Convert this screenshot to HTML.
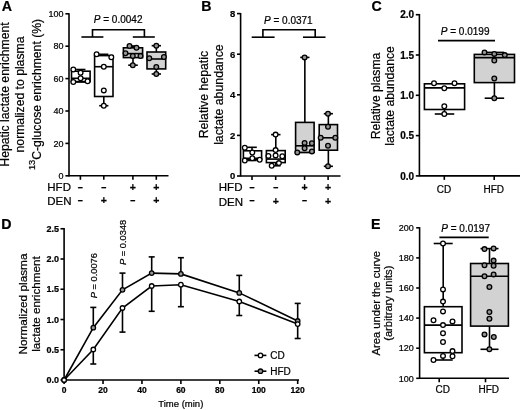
<!DOCTYPE html>
<html><head><meta charset="utf-8"><style>
html,body{margin:0;padding:0;background:#fff;}
svg{display:block;}
text{fill:#000;stroke:#000;stroke-width:0.22px;}
</style></head><body>
<svg width="520" height="410" viewBox="0 0 520 410" font-family="'Liberation Sans', Arial, Helvetica, sans-serif">
<rect width="520" height="410" fill="#fff"/>
<text x="1.80" y="11.30" font-size="14.2" text-anchor="start" font-weight="bold" >A</text>
<line x1="69.00" y1="13.20" x2="69.00" y2="176.40" stroke="#000" stroke-width="1.6"/>
<line x1="65.40" y1="175.80" x2="69.00" y2="175.80" stroke="#000" stroke-width="1.6"/>
<text x="63.60" y="179.04" font-size="9" text-anchor="end" >0</text>
<line x1="65.40" y1="143.40" x2="69.00" y2="143.40" stroke="#000" stroke-width="1.6"/>
<text x="63.60" y="146.64" font-size="9" text-anchor="end" >20</text>
<line x1="65.40" y1="111.00" x2="69.00" y2="111.00" stroke="#000" stroke-width="1.6"/>
<text x="63.60" y="114.24" font-size="9" text-anchor="end" >40</text>
<line x1="65.40" y1="78.60" x2="69.00" y2="78.60" stroke="#000" stroke-width="1.6"/>
<text x="63.60" y="81.84" font-size="9" text-anchor="end" >60</text>
<line x1="65.40" y1="46.20" x2="69.00" y2="46.20" stroke="#000" stroke-width="1.6"/>
<text x="63.60" y="49.44" font-size="9" text-anchor="end" >80</text>
<line x1="65.40" y1="13.80" x2="69.00" y2="13.80" stroke="#000" stroke-width="1.6"/>
<text x="63.60" y="17.04" font-size="9" text-anchor="end" >100</text>
<line x1="69.00" y1="175.80" x2="168.50" y2="175.80" stroke="#000" stroke-width="1.6"/>
<line x1="80.40" y1="175.80" x2="80.40" y2="179.80" stroke="#000" stroke-width="1.6"/>
<line x1="103.80" y1="175.80" x2="103.80" y2="179.80" stroke="#000" stroke-width="1.6"/>
<line x1="132.90" y1="175.80" x2="132.90" y2="179.80" stroke="#000" stroke-width="1.6"/>
<line x1="156.30" y1="175.80" x2="156.30" y2="179.80" stroke="#000" stroke-width="1.6"/>
<text x="9.20" y="94.50" font-size="12.2" text-anchor="middle" transform="rotate(-90 9.20 94.50)" >Hepatic lactate enrichment</text>
<text x="23.80" y="94.50" font-size="12.2" text-anchor="middle" transform="rotate(-90 23.80 94.50)" >normalized to plasma</text>
<text x="41.2" y="94.5" font-size="12.2" text-anchor="middle" transform="rotate(-90 41.2 94.5)"><tspan font-size="9.3" dy="-6.0">13</tspan><tspan dy="6.0">C-glucose enrichment (%)</tspan></text>
<text x="47.30" y="191.20" font-size="11.5" text-anchor="start" >HFD</text>
<text x="47.30" y="205.40" font-size="11.5" text-anchor="start" >DEN</text>
<text x="0" y="0" font-size="14" text-anchor="middle" transform="translate(80.40 191.80) scale(1.3 1)">-</text>
<text x="0" y="0" font-size="14" text-anchor="middle" transform="translate(103.80 191.80) scale(1.3 1)">-</text>
<text x="132.90" y="191.10" font-size="10.5" text-anchor="middle" font-weight="bold" >+</text>
<text x="156.30" y="191.10" font-size="10.5" text-anchor="middle" font-weight="bold" >+</text>
<text x="0" y="0" font-size="14" text-anchor="middle" transform="translate(80.40 204.90) scale(1.3 1)">-</text>
<text x="103.80" y="204.20" font-size="10.5" text-anchor="middle" font-weight="bold" >+</text>
<text x="0" y="0" font-size="14" text-anchor="middle" transform="translate(132.90 204.90) scale(1.3 1)">-</text>
<text x="156.30" y="204.20" font-size="10.5" text-anchor="middle" font-weight="bold" >+</text>
<text x="93.80" y="22.80" font-size="10" text-anchor="start" ><tspan font-style="italic">P</tspan> = 0.0042</text>
<polyline fill="none" stroke="#000" stroke-width="1.6" stroke-linejoin="miter" points="92.50,37.00 92.50,29.70 144.40,29.70 144.40,37.00"/>
<line x1="81.40" y1="37.00" x2="103.40" y2="37.00" stroke="#000" stroke-width="1.6"/>
<line x1="132.80" y1="37.00" x2="154.80" y2="37.00" stroke="#000" stroke-width="1.6"/>
<line x1="80.80" y1="69.50" x2="80.80" y2="71.20" stroke="#000" stroke-width="1.6"/>
<line x1="80.80" y1="81.60" x2="80.80" y2="82.00" stroke="#000" stroke-width="1.6"/>
<line x1="76.15" y1="69.50" x2="85.45" y2="69.50" stroke="#000" stroke-width="1.6"/>
<line x1="76.15" y1="82.00" x2="85.45" y2="82.00" stroke="#000" stroke-width="1.6"/>
<rect x="71.50" y="71.20" width="18.60" height="10.40" fill="#fff" stroke="#000" stroke-width="1.6"/>
<line x1="71.50" y1="78.30" x2="90.10" y2="78.30" stroke="#000" stroke-width="1.6"/>
<circle cx="73.30" cy="69.50" r="2.35" fill="#fff" stroke="#000" stroke-width="1.3"/>
<circle cx="80.60" cy="72.80" r="2.35" fill="#fff" stroke="#000" stroke-width="1.3"/>
<circle cx="80.60" cy="78.30" r="2.35" fill="#fff" stroke="#000" stroke-width="1.3"/>
<circle cx="73.30" cy="82.00" r="2.35" fill="#fff" stroke="#000" stroke-width="1.3"/>
<circle cx="87.60" cy="81.20" r="2.35" fill="#fff" stroke="#000" stroke-width="1.3"/>
<line x1="103.80" y1="54.30" x2="103.80" y2="55.60" stroke="#000" stroke-width="1.6"/>
<line x1="103.80" y1="96.50" x2="103.80" y2="105.70" stroke="#000" stroke-width="1.6"/>
<line x1="99.20" y1="54.30" x2="108.40" y2="54.30" stroke="#000" stroke-width="1.6"/>
<line x1="99.20" y1="105.70" x2="108.40" y2="105.70" stroke="#000" stroke-width="1.6"/>
<rect x="94.60" y="55.60" width="18.40" height="40.90" fill="#fff" stroke="#000" stroke-width="1.6"/>
<line x1="94.60" y1="66.70" x2="113.00" y2="66.70" stroke="#000" stroke-width="1.6"/>
<circle cx="96.60" cy="54.30" r="2.35" fill="#fff" stroke="#000" stroke-width="1.3"/>
<circle cx="111.30" cy="57.20" r="2.35" fill="#fff" stroke="#000" stroke-width="1.3"/>
<circle cx="103.80" cy="66.70" r="2.35" fill="#fff" stroke="#000" stroke-width="1.3"/>
<circle cx="103.80" cy="90.40" r="2.35" fill="#fff" stroke="#000" stroke-width="1.3"/>
<circle cx="103.80" cy="105.70" r="2.35" fill="#fff" stroke="#000" stroke-width="1.3"/>
<line x1="133.00" y1="46.00" x2="133.00" y2="47.80" stroke="#000" stroke-width="1.6"/>
<line x1="133.00" y1="57.60" x2="133.00" y2="65.20" stroke="#000" stroke-width="1.6"/>
<line x1="128.20" y1="46.00" x2="137.80" y2="46.00" stroke="#000" stroke-width="1.6"/>
<line x1="128.20" y1="65.20" x2="137.80" y2="65.20" stroke="#000" stroke-width="1.6"/>
<rect x="123.40" y="47.80" width="19.20" height="9.80" fill="#d2d2d2" stroke="#000" stroke-width="1.6"/>
<line x1="123.40" y1="53.60" x2="142.60" y2="53.60" stroke="#000" stroke-width="1.6"/>
<circle cx="129.50" cy="46.00" r="2.35" fill="#959595" stroke="#000" stroke-width="1.3"/>
<circle cx="136.50" cy="47.80" r="2.35" fill="#959595" stroke="#000" stroke-width="1.3"/>
<circle cx="125.50" cy="53.30" r="2.35" fill="#959595" stroke="#000" stroke-width="1.3"/>
<circle cx="132.80" cy="56.00" r="2.35" fill="#959595" stroke="#000" stroke-width="1.3"/>
<circle cx="140.50" cy="56.00" r="2.35" fill="#959595" stroke="#000" stroke-width="1.3"/>
<circle cx="132.80" cy="65.20" r="2.35" fill="#959595" stroke="#000" stroke-width="1.3"/>
<line x1="156.35" y1="45.70" x2="156.35" y2="52.00" stroke="#000" stroke-width="1.6"/>
<line x1="156.35" y1="68.90" x2="156.35" y2="74.00" stroke="#000" stroke-width="1.6"/>
<line x1="151.67" y1="45.70" x2="161.03" y2="45.70" stroke="#000" stroke-width="1.6"/>
<line x1="151.67" y1="74.00" x2="161.03" y2="74.00" stroke="#000" stroke-width="1.6"/>
<rect x="147.00" y="52.00" width="18.70" height="16.90" fill="#d2d2d2" stroke="#000" stroke-width="1.6"/>
<line x1="147.00" y1="59.00" x2="165.70" y2="59.00" stroke="#000" stroke-width="1.6"/>
<circle cx="156.30" cy="45.70" r="2.35" fill="#959595" stroke="#000" stroke-width="1.3"/>
<circle cx="149.30" cy="58.20" r="2.35" fill="#959595" stroke="#000" stroke-width="1.3"/>
<circle cx="163.90" cy="57.00" r="2.35" fill="#959595" stroke="#000" stroke-width="1.3"/>
<circle cx="156.30" cy="67.00" r="2.35" fill="#959595" stroke="#000" stroke-width="1.3"/>
<circle cx="156.30" cy="74.00" r="2.35" fill="#959595" stroke="#000" stroke-width="1.3"/>
<text x="201.30" y="11.30" font-size="14.2" text-anchor="start" font-weight="bold" >B</text>
<line x1="240.60" y1="13.00" x2="240.60" y2="176.60" stroke="#000" stroke-width="1.6"/>
<line x1="237.00" y1="176.00" x2="240.60" y2="176.00" stroke="#000" stroke-width="1.6"/>
<text x="235.40" y="179.42" font-size="9.5" text-anchor="end" font-weight="bold" >0</text>
<line x1="237.00" y1="135.40" x2="240.60" y2="135.40" stroke="#000" stroke-width="1.6"/>
<text x="235.40" y="138.82" font-size="9.5" text-anchor="end" font-weight="bold" >2</text>
<line x1="237.00" y1="94.80" x2="240.60" y2="94.80" stroke="#000" stroke-width="1.6"/>
<text x="235.40" y="98.22" font-size="9.5" text-anchor="end" font-weight="bold" >4</text>
<line x1="237.00" y1="54.20" x2="240.60" y2="54.20" stroke="#000" stroke-width="1.6"/>
<text x="235.40" y="57.62" font-size="9.5" text-anchor="end" font-weight="bold" >6</text>
<line x1="237.00" y1="13.60" x2="240.60" y2="13.60" stroke="#000" stroke-width="1.6"/>
<text x="235.40" y="17.02" font-size="9.5" text-anchor="end" font-weight="bold" >8</text>
<line x1="240.60" y1="176.00" x2="340.50" y2="176.00" stroke="#000" stroke-width="1.6"/>
<line x1="252.00" y1="176.00" x2="252.00" y2="180.00" stroke="#000" stroke-width="1.6"/>
<line x1="275.70" y1="176.00" x2="275.70" y2="180.00" stroke="#000" stroke-width="1.6"/>
<line x1="304.60" y1="176.00" x2="304.60" y2="180.00" stroke="#000" stroke-width="1.6"/>
<line x1="328.10" y1="176.00" x2="328.10" y2="180.00" stroke="#000" stroke-width="1.6"/>
<text x="207.90" y="94.60" font-size="12.3" text-anchor="middle" transform="rotate(-90 207.90 94.60)" >Relative hepatic</text>
<text x="222.60" y="94.60" font-size="12.3" text-anchor="middle" transform="rotate(-90 222.60 94.60)" >lactate abundance</text>
<text x="218.80" y="191.40" font-size="11.5" text-anchor="start" >HFD</text>
<text x="218.80" y="205.60" font-size="11.5" text-anchor="start" >DEN</text>
<text x="0" y="0" font-size="14" text-anchor="middle" transform="translate(252.00 192.00) scale(1.3 1)">-</text>
<text x="0" y="0" font-size="14" text-anchor="middle" transform="translate(275.70 192.00) scale(1.3 1)">-</text>
<text x="304.60" y="191.30" font-size="10.5" text-anchor="middle" font-weight="bold" >+</text>
<text x="328.10" y="191.30" font-size="10.5" text-anchor="middle" font-weight="bold" >+</text>
<text x="0" y="0" font-size="14" text-anchor="middle" transform="translate(252.00 205.20) scale(1.3 1)">-</text>
<text x="275.70" y="204.50" font-size="10.5" text-anchor="middle" font-weight="bold" >+</text>
<text x="0" y="0" font-size="14" text-anchor="middle" transform="translate(304.60 205.20) scale(1.3 1)">-</text>
<text x="328.10" y="204.50" font-size="10.5" text-anchor="middle" font-weight="bold" >+</text>
<text x="264.00" y="23.60" font-size="10" text-anchor="start" ><tspan font-style="italic">P</tspan> = 0.0371</text>
<polyline fill="none" stroke="#000" stroke-width="1.6" stroke-linejoin="miter" points="262.90,37.20 262.90,29.80 315.20,29.80 315.20,37.20"/>
<line x1="251.70" y1="37.20" x2="274.60" y2="37.20" stroke="#000" stroke-width="1.6"/>
<line x1="303.00" y1="37.20" x2="325.50" y2="37.20" stroke="#000" stroke-width="1.6"/>
<line x1="252.00" y1="147.30" x2="252.00" y2="150.80" stroke="#000" stroke-width="1.6"/>
<line x1="252.00" y1="159.20" x2="252.00" y2="160.50" stroke="#000" stroke-width="1.6"/>
<line x1="247.20" y1="147.30" x2="256.80" y2="147.30" stroke="#000" stroke-width="1.6"/>
<line x1="247.20" y1="160.50" x2="256.80" y2="160.50" stroke="#000" stroke-width="1.6"/>
<rect x="243.40" y="150.80" width="18.20" height="8.40" fill="#fff" stroke="#000" stroke-width="1.6"/>
<line x1="243.40" y1="158.30" x2="261.60" y2="158.30" stroke="#000" stroke-width="1.6"/>
<circle cx="244.80" cy="147.70" r="2.35" fill="#fff" stroke="#000" stroke-width="1.3"/>
<circle cx="252.30" cy="152.50" r="2.35" fill="#fff" stroke="#000" stroke-width="1.3"/>
<circle cx="252.30" cy="158.30" r="2.35" fill="#fff" stroke="#000" stroke-width="1.3"/>
<circle cx="244.80" cy="160.50" r="2.35" fill="#fff" stroke="#000" stroke-width="1.3"/>
<circle cx="259.70" cy="159.70" r="2.35" fill="#fff" stroke="#000" stroke-width="1.3"/>
<line x1="275.80" y1="134.60" x2="275.80" y2="150.60" stroke="#000" stroke-width="1.6"/>
<line x1="275.80" y1="162.60" x2="275.80" y2="165.80" stroke="#000" stroke-width="1.6"/>
<line x1="271.10" y1="134.60" x2="280.50" y2="134.60" stroke="#000" stroke-width="1.6"/>
<line x1="271.10" y1="165.80" x2="280.50" y2="165.80" stroke="#000" stroke-width="1.6"/>
<rect x="266.40" y="150.60" width="18.80" height="12.00" fill="#fff" stroke="#000" stroke-width="1.6"/>
<line x1="266.40" y1="159.10" x2="285.20" y2="159.10" stroke="#000" stroke-width="1.6"/>
<circle cx="275.60" cy="134.60" r="2.35" fill="#fff" stroke="#000" stroke-width="1.3"/>
<circle cx="275.60" cy="150.10" r="2.35" fill="#fff" stroke="#000" stroke-width="1.3"/>
<circle cx="268.40" cy="155.90" r="2.35" fill="#fff" stroke="#000" stroke-width="1.3"/>
<circle cx="275.60" cy="155.40" r="2.35" fill="#fff" stroke="#000" stroke-width="1.3"/>
<circle cx="282.30" cy="156.30" r="2.35" fill="#fff" stroke="#000" stroke-width="1.3"/>
<circle cx="278.90" cy="163.10" r="2.35" fill="#fff" stroke="#000" stroke-width="1.3"/>
<circle cx="271.70" cy="165.80" r="2.35" fill="#fff" stroke="#000" stroke-width="1.3"/>
<line x1="304.85" y1="57.40" x2="304.85" y2="122.40" stroke="#000" stroke-width="1.6"/>
<line x1="304.85" y1="152.40" x2="304.85" y2="152.40" stroke="#000" stroke-width="1.6"/>
<line x1="300.23" y1="57.40" x2="309.48" y2="57.40" stroke="#000" stroke-width="1.6"/>
<line x1="300.23" y1="152.40" x2="309.48" y2="152.40" stroke="#000" stroke-width="1.6"/>
<rect x="295.60" y="122.40" width="18.50" height="30.00" fill="#d2d2d2" stroke="#000" stroke-width="1.6"/>
<line x1="295.60" y1="145.80" x2="314.10" y2="145.80" stroke="#000" stroke-width="1.6"/>
<circle cx="304.60" cy="57.40" r="2.35" fill="#959595" stroke="#000" stroke-width="1.3"/>
<circle cx="304.60" cy="142.90" r="2.35" fill="#959595" stroke="#000" stroke-width="1.3"/>
<circle cx="311.90" cy="143.30" r="2.35" fill="#959595" stroke="#000" stroke-width="1.3"/>
<circle cx="304.60" cy="148.30" r="2.35" fill="#959595" stroke="#000" stroke-width="1.3"/>
<circle cx="297.30" cy="152.40" r="2.35" fill="#959595" stroke="#000" stroke-width="1.3"/>
<circle cx="311.90" cy="151.40" r="2.35" fill="#959595" stroke="#000" stroke-width="1.3"/>
<line x1="328.35" y1="113.70" x2="328.35" y2="124.60" stroke="#000" stroke-width="1.6"/>
<line x1="328.35" y1="150.20" x2="328.35" y2="166.30" stroke="#000" stroke-width="1.6"/>
<line x1="323.78" y1="113.70" x2="332.93" y2="113.70" stroke="#000" stroke-width="1.6"/>
<line x1="323.78" y1="166.30" x2="332.93" y2="166.30" stroke="#000" stroke-width="1.6"/>
<rect x="319.20" y="124.60" width="18.30" height="25.60" fill="#d2d2d2" stroke="#000" stroke-width="1.6"/>
<line x1="319.20" y1="137.80" x2="337.50" y2="137.80" stroke="#000" stroke-width="1.6"/>
<circle cx="328.00" cy="113.70" r="2.35" fill="#959595" stroke="#000" stroke-width="1.3"/>
<circle cx="328.00" cy="126.80" r="2.35" fill="#959595" stroke="#000" stroke-width="1.3"/>
<circle cx="320.70" cy="137.80" r="2.35" fill="#959595" stroke="#000" stroke-width="1.3"/>
<circle cx="335.30" cy="137.80" r="2.35" fill="#959595" stroke="#000" stroke-width="1.3"/>
<circle cx="328.00" cy="145.80" r="2.35" fill="#959595" stroke="#000" stroke-width="1.3"/>
<circle cx="328.00" cy="166.30" r="2.35" fill="#959595" stroke="#000" stroke-width="1.3"/>
<text x="371.60" y="11.40" font-size="14.2" text-anchor="start" font-weight="bold" >C</text>
<line x1="419.40" y1="14.00" x2="419.40" y2="176.50" stroke="#000" stroke-width="1.6"/>
<line x1="415.80" y1="175.90" x2="419.40" y2="175.90" stroke="#000" stroke-width="1.6"/>
<text x="414.10" y="179.50" font-size="10" text-anchor="end" font-weight="bold" >0.0</text>
<line x1="415.80" y1="135.60" x2="419.40" y2="135.60" stroke="#000" stroke-width="1.6"/>
<text x="414.10" y="139.20" font-size="10" text-anchor="end" font-weight="bold" >0.5</text>
<line x1="415.80" y1="95.30" x2="419.40" y2="95.30" stroke="#000" stroke-width="1.6"/>
<text x="414.10" y="98.90" font-size="10" text-anchor="end" font-weight="bold" >1.0</text>
<line x1="415.80" y1="55.00" x2="419.40" y2="55.00" stroke="#000" stroke-width="1.6"/>
<text x="414.10" y="58.60" font-size="10" text-anchor="end" font-weight="bold" >1.5</text>
<line x1="415.80" y1="14.70" x2="419.40" y2="14.70" stroke="#000" stroke-width="1.6"/>
<text x="414.10" y="18.30" font-size="10" text-anchor="end" font-weight="bold" >2.0</text>
<line x1="419.40" y1="175.90" x2="520.00" y2="175.90" stroke="#000" stroke-width="1.6"/>
<line x1="444.30" y1="175.90" x2="444.30" y2="179.90" stroke="#000" stroke-width="1.6"/>
<line x1="494.20" y1="175.90" x2="494.20" y2="179.90" stroke="#000" stroke-width="1.6"/>
<text x="380.20" y="96.00" font-size="12.2" text-anchor="middle" transform="rotate(-90 380.20 96.00)" >Relative plasma</text>
<text x="393.90" y="96.00" font-size="12.2" text-anchor="middle" transform="rotate(-90 393.90 96.00)" >lactate abundance</text>
<text x="444.00" y="193.00" font-size="10" text-anchor="middle" >CD</text>
<text x="493.80" y="193.00" font-size="10" text-anchor="middle" >HFD</text>
<text x="440.80" y="34.50" font-size="10" text-anchor="start" ><tspan font-style="italic">P</tspan> = 0.0199</text>
<line x1="438.00" y1="40.60" x2="495.00" y2="40.60" stroke="#000" stroke-width="1.6"/>
<line x1="444.50" y1="83.80" x2="444.50" y2="83.80" stroke="#000" stroke-width="1.6"/>
<line x1="444.50" y1="109.50" x2="444.50" y2="114.00" stroke="#000" stroke-width="1.6"/>
<line x1="434.75" y1="83.80" x2="454.25" y2="83.80" stroke="#000" stroke-width="1.6"/>
<line x1="434.75" y1="114.00" x2="454.25" y2="114.00" stroke="#000" stroke-width="1.6"/>
<rect x="424.40" y="83.80" width="40.20" height="25.70" fill="#fff" stroke="#000" stroke-width="1.6"/>
<line x1="424.40" y1="87.90" x2="464.60" y2="87.90" stroke="#000" stroke-width="1.6"/>
<circle cx="434.00" cy="83.30" r="2.35" fill="#fff" stroke="#000" stroke-width="1.3"/>
<circle cx="454.50" cy="83.30" r="2.35" fill="#fff" stroke="#000" stroke-width="1.3"/>
<circle cx="444.30" cy="88.20" r="2.35" fill="#fff" stroke="#000" stroke-width="1.3"/>
<circle cx="444.30" cy="106.30" r="2.35" fill="#fff" stroke="#000" stroke-width="1.3"/>
<circle cx="444.30" cy="114.00" r="2.35" fill="#fff" stroke="#000" stroke-width="1.3"/>
<line x1="494.40" y1="52.40" x2="494.40" y2="54.40" stroke="#000" stroke-width="1.6"/>
<line x1="494.40" y1="82.60" x2="494.40" y2="98.20" stroke="#000" stroke-width="1.6"/>
<line x1="484.65" y1="52.40" x2="504.15" y2="52.40" stroke="#000" stroke-width="1.6"/>
<line x1="484.65" y1="98.20" x2="504.15" y2="98.20" stroke="#000" stroke-width="1.6"/>
<rect x="474.30" y="54.40" width="40.20" height="28.20" fill="#d2d2d2" stroke="#000" stroke-width="1.6"/>
<line x1="474.30" y1="57.60" x2="514.50" y2="57.60" stroke="#000" stroke-width="1.6"/>
<circle cx="484.50" cy="52.40" r="2.35" fill="#959595" stroke="#000" stroke-width="1.3"/>
<circle cx="494.30" cy="53.90" r="2.35" fill="#959595" stroke="#000" stroke-width="1.3"/>
<circle cx="504.80" cy="55.10" r="2.35" fill="#959595" stroke="#000" stroke-width="1.3"/>
<circle cx="494.30" cy="60.50" r="2.35" fill="#959595" stroke="#000" stroke-width="1.3"/>
<circle cx="494.30" cy="78.50" r="2.35" fill="#959595" stroke="#000" stroke-width="1.3"/>
<circle cx="494.30" cy="98.20" r="2.35" fill="#959595" stroke="#000" stroke-width="1.3"/>
<text x="1.20" y="229.30" font-size="14.2" text-anchor="start" font-weight="bold" >D</text>
<line x1="64.10" y1="228.10" x2="64.10" y2="380.60" stroke="#000" stroke-width="1.6"/>
<line x1="60.50" y1="380.00" x2="64.10" y2="380.00" stroke="#000" stroke-width="1.6"/>
<text x="59.10" y="383.24" font-size="9" text-anchor="end" font-weight="bold" >0.0</text>
<line x1="60.50" y1="349.75" x2="64.10" y2="349.75" stroke="#000" stroke-width="1.6"/>
<text x="59.10" y="352.99" font-size="9" text-anchor="end" font-weight="bold" >0.5</text>
<line x1="60.50" y1="319.50" x2="64.10" y2="319.50" stroke="#000" stroke-width="1.6"/>
<text x="59.10" y="322.74" font-size="9" text-anchor="end" font-weight="bold" >1.0</text>
<line x1="60.50" y1="289.25" x2="64.10" y2="289.25" stroke="#000" stroke-width="1.6"/>
<text x="59.10" y="292.49" font-size="9" text-anchor="end" font-weight="bold" >1.5</text>
<line x1="60.50" y1="259.00" x2="64.10" y2="259.00" stroke="#000" stroke-width="1.6"/>
<text x="59.10" y="262.24" font-size="9" text-anchor="end" font-weight="bold" >2.0</text>
<line x1="60.50" y1="228.75" x2="64.10" y2="228.75" stroke="#000" stroke-width="1.6"/>
<text x="59.10" y="231.99" font-size="9" text-anchor="end" font-weight="bold" >2.5</text>
<line x1="64.10" y1="380.00" x2="299.00" y2="380.00" stroke="#000" stroke-width="1.6"/>
<line x1="64.10" y1="380.00" x2="64.10" y2="384.00" stroke="#000" stroke-width="1.6"/>
<text x="64.10" y="393.20" font-size="8.5" text-anchor="middle" font-weight="bold" >0</text>
<line x1="103.03" y1="380.00" x2="103.03" y2="384.00" stroke="#000" stroke-width="1.6"/>
<text x="103.03" y="393.20" font-size="8.5" text-anchor="middle" font-weight="bold" >20</text>
<line x1="141.96" y1="380.00" x2="141.96" y2="384.00" stroke="#000" stroke-width="1.6"/>
<text x="141.96" y="393.20" font-size="8.5" text-anchor="middle" font-weight="bold" >40</text>
<line x1="180.89" y1="380.00" x2="180.89" y2="384.00" stroke="#000" stroke-width="1.6"/>
<text x="180.89" y="393.20" font-size="8.5" text-anchor="middle" font-weight="bold" >60</text>
<line x1="219.82" y1="380.00" x2="219.82" y2="384.00" stroke="#000" stroke-width="1.6"/>
<text x="219.82" y="393.20" font-size="8.5" text-anchor="middle" font-weight="bold" >80</text>
<line x1="258.75" y1="380.00" x2="258.75" y2="384.00" stroke="#000" stroke-width="1.6"/>
<text x="258.75" y="393.20" font-size="8.5" text-anchor="middle" font-weight="bold" >100</text>
<line x1="297.68" y1="380.00" x2="297.68" y2="384.00" stroke="#000" stroke-width="1.6"/>
<text x="297.68" y="393.20" font-size="8.5" text-anchor="middle" font-weight="bold" >120</text>
<text x="180.80" y="407.20" font-size="9.5" text-anchor="middle" >Time (min)</text>
<text x="27.00" y="304.00" font-size="11.8" text-anchor="middle" transform="rotate(-90 27.00 304.00)" >Normalized plasma</text>
<text x="39.60" y="304.00" font-size="11.7" text-anchor="middle" transform="rotate(-90 39.60 304.00)" >lactate enrichment</text>
<line x1="93.30" y1="327.70" x2="93.30" y2="307.40" stroke="#000" stroke-width="1.6"/>
<line x1="90.30" y1="307.40" x2="96.30" y2="307.40" stroke="#000" stroke-width="1.6"/>
<line x1="122.49" y1="289.80" x2="122.49" y2="273.10" stroke="#000" stroke-width="1.6"/>
<line x1="119.49" y1="273.10" x2="125.49" y2="273.10" stroke="#000" stroke-width="1.6"/>
<line x1="151.69" y1="273.10" x2="151.69" y2="256.90" stroke="#000" stroke-width="1.6"/>
<line x1="148.69" y1="256.90" x2="154.69" y2="256.90" stroke="#000" stroke-width="1.6"/>
<line x1="180.89" y1="273.90" x2="180.89" y2="257.70" stroke="#000" stroke-width="1.6"/>
<line x1="177.89" y1="257.70" x2="183.89" y2="257.70" stroke="#000" stroke-width="1.6"/>
<line x1="239.28" y1="292.90" x2="239.28" y2="275.40" stroke="#000" stroke-width="1.6"/>
<line x1="236.28" y1="275.40" x2="242.28" y2="275.40" stroke="#000" stroke-width="1.6"/>
<line x1="297.68" y1="321.00" x2="297.68" y2="303.40" stroke="#000" stroke-width="1.6"/>
<line x1="294.68" y1="303.40" x2="300.68" y2="303.40" stroke="#000" stroke-width="1.6"/>
<line x1="93.30" y1="349.50" x2="93.30" y2="364.00" stroke="#000" stroke-width="1.6"/>
<line x1="90.30" y1="364.00" x2="96.30" y2="364.00" stroke="#000" stroke-width="1.6"/>
<line x1="122.49" y1="308.00" x2="122.49" y2="332.10" stroke="#000" stroke-width="1.6"/>
<line x1="119.49" y1="332.10" x2="125.49" y2="332.10" stroke="#000" stroke-width="1.6"/>
<line x1="151.69" y1="286.00" x2="151.69" y2="311.30" stroke="#000" stroke-width="1.6"/>
<line x1="148.69" y1="311.30" x2="154.69" y2="311.30" stroke="#000" stroke-width="1.6"/>
<line x1="180.89" y1="284.70" x2="180.89" y2="306.70" stroke="#000" stroke-width="1.6"/>
<line x1="177.89" y1="306.70" x2="183.89" y2="306.70" stroke="#000" stroke-width="1.6"/>
<line x1="239.28" y1="301.50" x2="239.28" y2="315.50" stroke="#000" stroke-width="1.6"/>
<line x1="236.28" y1="315.50" x2="242.28" y2="315.50" stroke="#000" stroke-width="1.6"/>
<line x1="297.68" y1="324.10" x2="297.68" y2="338.50" stroke="#000" stroke-width="1.6"/>
<line x1="294.68" y1="338.50" x2="300.68" y2="338.50" stroke="#000" stroke-width="1.6"/>
<polyline fill="none" stroke="#000" stroke-width="1.6" points="64.10,380.00 93.30,327.70 122.49,289.80 151.69,273.10 180.89,273.90 239.28,292.90 297.68,321.00"/>
<polyline fill="none" stroke="#000" stroke-width="1.6" points="64.10,380.00 93.30,349.50 122.49,308.00 151.69,286.00 180.89,284.70 239.28,301.50 297.68,324.10"/>
<circle cx="64.10" cy="380.00" r="2.25" fill="#959595" stroke="#000" stroke-width="1.3"/>
<circle cx="93.30" cy="327.70" r="2.25" fill="#959595" stroke="#000" stroke-width="1.3"/>
<circle cx="122.49" cy="289.80" r="2.25" fill="#959595" stroke="#000" stroke-width="1.3"/>
<circle cx="151.69" cy="273.10" r="2.25" fill="#959595" stroke="#000" stroke-width="1.3"/>
<circle cx="180.89" cy="273.90" r="2.25" fill="#959595" stroke="#000" stroke-width="1.3"/>
<circle cx="239.28" cy="292.90" r="2.25" fill="#959595" stroke="#000" stroke-width="1.3"/>
<circle cx="297.68" cy="321.00" r="2.25" fill="#959595" stroke="#000" stroke-width="1.3"/>
<circle cx="64.10" cy="380.00" r="2.25" fill="#fff" stroke="#000" stroke-width="1.3"/>
<circle cx="93.30" cy="349.50" r="2.25" fill="#fff" stroke="#000" stroke-width="1.3"/>
<circle cx="122.49" cy="308.00" r="2.25" fill="#fff" stroke="#000" stroke-width="1.3"/>
<circle cx="151.69" cy="286.00" r="2.25" fill="#fff" stroke="#000" stroke-width="1.3"/>
<circle cx="180.89" cy="284.70" r="2.25" fill="#fff" stroke="#000" stroke-width="1.3"/>
<circle cx="239.28" cy="301.50" r="2.25" fill="#fff" stroke="#000" stroke-width="1.3"/>
<circle cx="297.68" cy="324.10" r="2.25" fill="#fff" stroke="#000" stroke-width="1.3"/>
<text x="96.6" y="298.3" font-size="9.3" transform="rotate(-90 96.6 298.3)"><tspan font-style="italic">P</tspan> = 0.0076</text>
<text x="125.8" y="265.0" font-size="9.3" transform="rotate(-90 125.8 265.0)"><tspan font-style="italic">P</tspan> = 0.0348</text>
<line x1="254.50" y1="355.40" x2="266.40" y2="355.40" stroke="#000" stroke-width="1.6"/>
<circle cx="260.50" cy="355.40" r="2.2" fill="#fff" stroke="#000" stroke-width="1.3"/>
<text x="270.20" y="359.00" font-size="10" text-anchor="start" >CD</text>
<line x1="254.50" y1="371.20" x2="266.40" y2="371.20" stroke="#000" stroke-width="1.6"/>
<circle cx="260.50" cy="371.20" r="2.2" fill="#959595" stroke="#000" stroke-width="1.3"/>
<text x="270.20" y="374.80" font-size="10" text-anchor="start" >HFD</text>
<text x="371.10" y="229.30" font-size="14.2" text-anchor="start" font-weight="bold" >E</text>
<line x1="419.60" y1="227.20" x2="419.60" y2="378.90" stroke="#000" stroke-width="1.6"/>
<line x1="416.20" y1="378.30" x2="419.60" y2="378.30" stroke="#000" stroke-width="1.6"/>
<text x="413.90" y="381.54" font-size="9" text-anchor="end" >100</text>
<line x1="416.20" y1="348.20" x2="419.60" y2="348.20" stroke="#000" stroke-width="1.6"/>
<text x="413.90" y="351.44" font-size="9" text-anchor="end" >120</text>
<line x1="416.20" y1="318.10" x2="419.60" y2="318.10" stroke="#000" stroke-width="1.6"/>
<text x="413.90" y="321.34" font-size="9" text-anchor="end" >140</text>
<line x1="416.20" y1="288.00" x2="419.60" y2="288.00" stroke="#000" stroke-width="1.6"/>
<text x="413.90" y="291.24" font-size="9" text-anchor="end" >160</text>
<line x1="416.20" y1="257.90" x2="419.60" y2="257.90" stroke="#000" stroke-width="1.6"/>
<text x="413.90" y="261.14" font-size="9" text-anchor="end" >180</text>
<line x1="416.20" y1="227.80" x2="419.60" y2="227.80" stroke="#000" stroke-width="1.6"/>
<text x="413.90" y="231.04" font-size="9" text-anchor="end" >200</text>
<line x1="419.60" y1="378.30" x2="509.00" y2="378.30" stroke="#000" stroke-width="1.6"/>
<line x1="439.20" y1="378.30" x2="439.20" y2="382.30" stroke="#000" stroke-width="1.6"/>
<line x1="485.50" y1="378.30" x2="485.50" y2="382.30" stroke="#000" stroke-width="1.6"/>
<text x="379.60" y="303.20" font-size="11.2" text-anchor="middle" transform="rotate(-90 379.60 303.20)" >Area under the curve</text>
<text x="391.60" y="303.20" font-size="11.2" text-anchor="middle" transform="rotate(-90 391.60 303.20)" >(arbitrary units)</text>
<text x="442.80" y="392.80" font-size="10" text-anchor="middle" >CD</text>
<text x="488.80" y="392.80" font-size="10" text-anchor="middle" >HFD</text>
<text x="441.30" y="232.00" font-size="10" text-anchor="start" ><tspan font-style="italic">P</tspan> = 0.0197</text>
<line x1="439.40" y1="237.40" x2="488.70" y2="237.40" stroke="#000" stroke-width="1.6"/>
<line x1="443.20" y1="243.50" x2="443.20" y2="306.70" stroke="#000" stroke-width="1.6"/>
<line x1="443.20" y1="352.70" x2="443.20" y2="360.00" stroke="#000" stroke-width="1.6"/>
<line x1="433.70" y1="243.50" x2="452.70" y2="243.50" stroke="#000" stroke-width="1.6"/>
<line x1="433.70" y1="360.00" x2="452.70" y2="360.00" stroke="#000" stroke-width="1.6"/>
<rect x="424.40" y="306.70" width="37.60" height="46.00" fill="#fff" stroke="#000" stroke-width="1.6"/>
<line x1="424.40" y1="325.10" x2="462.00" y2="325.10" stroke="#000" stroke-width="1.6"/>
<circle cx="443.00" cy="243.50" r="2.35" fill="#fff" stroke="#000" stroke-width="1.3"/>
<circle cx="443.00" cy="289.40" r="2.35" fill="#fff" stroke="#000" stroke-width="1.3"/>
<circle cx="443.00" cy="301.60" r="2.35" fill="#fff" stroke="#000" stroke-width="1.3"/>
<circle cx="443.00" cy="311.40" r="2.35" fill="#fff" stroke="#000" stroke-width="1.3"/>
<circle cx="433.50" cy="320.30" r="2.35" fill="#fff" stroke="#000" stroke-width="1.3"/>
<circle cx="452.50" cy="321.40" r="2.35" fill="#fff" stroke="#000" stroke-width="1.3"/>
<circle cx="443.00" cy="325.10" r="2.35" fill="#fff" stroke="#000" stroke-width="1.3"/>
<circle cx="443.00" cy="333.30" r="2.35" fill="#fff" stroke="#000" stroke-width="1.3"/>
<circle cx="443.00" cy="342.00" r="2.35" fill="#fff" stroke="#000" stroke-width="1.3"/>
<circle cx="452.50" cy="351.10" r="2.35" fill="#fff" stroke="#000" stroke-width="1.3"/>
<circle cx="443.00" cy="355.90" r="2.35" fill="#fff" stroke="#000" stroke-width="1.3"/>
<circle cx="452.50" cy="356.30" r="2.35" fill="#fff" stroke="#000" stroke-width="1.3"/>
<circle cx="433.50" cy="360.00" r="2.35" fill="#fff" stroke="#000" stroke-width="1.3"/>
<line x1="489.50" y1="248.60" x2="489.50" y2="263.50" stroke="#000" stroke-width="1.6"/>
<line x1="489.50" y1="326.10" x2="489.50" y2="349.30" stroke="#000" stroke-width="1.6"/>
<line x1="480.50" y1="248.60" x2="498.50" y2="248.60" stroke="#000" stroke-width="1.6"/>
<line x1="480.50" y1="349.30" x2="498.50" y2="349.30" stroke="#000" stroke-width="1.6"/>
<rect x="470.60" y="263.50" width="37.80" height="62.60" fill="#d2d2d2" stroke="#000" stroke-width="1.6"/>
<line x1="470.60" y1="276.20" x2="508.40" y2="276.20" stroke="#000" stroke-width="1.6"/>
<circle cx="484.50" cy="249.10" r="2.35" fill="#959595" stroke="#000" stroke-width="1.3"/>
<circle cx="493.60" cy="248.40" r="2.35" fill="#959595" stroke="#000" stroke-width="1.3"/>
<circle cx="493.60" cy="260.60" r="2.35" fill="#959595" stroke="#000" stroke-width="1.3"/>
<circle cx="484.50" cy="265.30" r="2.35" fill="#959595" stroke="#000" stroke-width="1.3"/>
<circle cx="493.60" cy="265.70" r="2.35" fill="#959595" stroke="#000" stroke-width="1.3"/>
<circle cx="484.50" cy="276.30" r="2.35" fill="#959595" stroke="#000" stroke-width="1.3"/>
<circle cx="493.60" cy="274.40" r="2.35" fill="#959595" stroke="#000" stroke-width="1.3"/>
<circle cx="489.40" cy="287.00" r="2.35" fill="#959595" stroke="#000" stroke-width="1.3"/>
<circle cx="489.40" cy="312.00" r="2.35" fill="#959595" stroke="#000" stroke-width="1.3"/>
<circle cx="489.40" cy="318.80" r="2.35" fill="#959595" stroke="#000" stroke-width="1.3"/>
<circle cx="484.50" cy="334.40" r="2.35" fill="#959595" stroke="#000" stroke-width="1.3"/>
<circle cx="493.80" cy="337.00" r="2.35" fill="#959595" stroke="#000" stroke-width="1.3"/>
<circle cx="489.40" cy="349.30" r="2.35" fill="#959595" stroke="#000" stroke-width="1.3"/>
</svg>
</body></html>
